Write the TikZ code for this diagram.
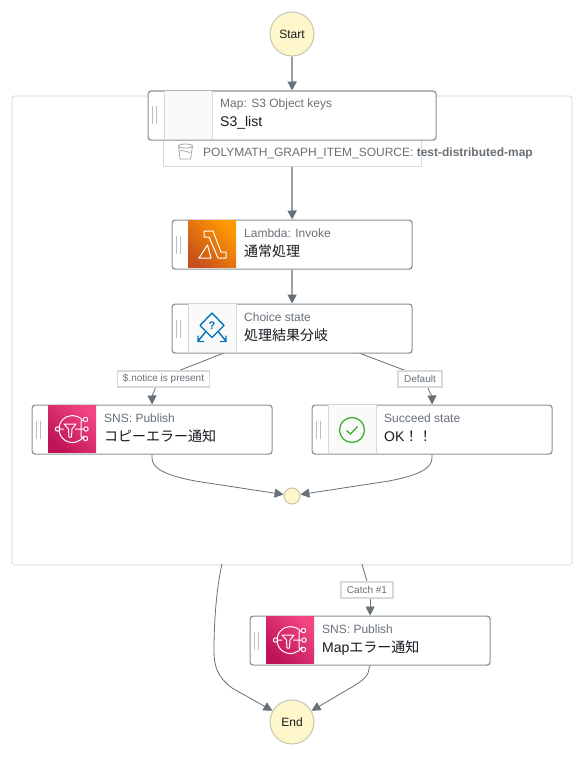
\documentclass[tikz,border=0pt]{standalone}
\usepackage{fontspec}
\setmainfont{Liberation Sans}
\newfontfamily\cjk{Noto Sans CJK JP}
\usetikzlibrary{arrows.meta,calc}
\definecolor{txtgray}{HTML}{687078}
\definecolor{txtdark}{HTML}{16191F}
\definecolor{edgegray}{HTML}{687078}
\definecolor{boxline}{HTML}{879196}
\definecolor{stemgray}{HTML}{98A2A7}
\definecolor{lightline}{HTML}{D5DBDB}
\definecolor{groupline}{HTML}{E1E5E5}
\definecolor{handlegray}{HTML}{B8C0C4}
\definecolor{panelfill}{HTML}{FAFAFA}
\definecolor{termfill}{HTML}{FEF7CB}
\definecolor{termline}{HTML}{C9C6B0}
\definecolor{awsblue}{HTML}{0073BB}
\definecolor{awsgreen}{HTML}{2EAB1E}
\definecolor{snslow}{HTML}{BC1356}
\definecolor{snshigh}{HTML}{F34482}
\definecolor{snsmid}{HTML}{D82A6A}
\definecolor{lambdalow}{HTML}{C8511B}
\definecolor{lambdahigh}{HTML}{FF9900}
\pgfdeclarelayer{under}
\pgfsetlayers{under,main}
\tikzset{
  statebox/.style={draw=boxline,line width=1.2pt,fill=white,rounded corners=3pt,minimum height=49pt,minimum width=240pt,anchor=north west,inner sep=0pt},
  terminal/.style={circle,draw=termline,fill=termfill,line width=1pt,minimum size=44pt,inner sep=0pt,font=\fontsize{12}{14}\selectfont,text=txtdark},
  subtitle/.style={anchor=base west,inner sep=0pt,font=\fontsize{12}{14}\selectfont,text=txtgray},
  titletext/.style={anchor=base west,inner sep=0pt,font=\fontsize{14}{16}\selectfont,text=txtdark},
  edgelabel/.style={draw=lightline,line width=1.2pt,fill=white,inner sep=0pt,minimum height=16pt,font=\fontsize{10}{11}\selectfont,text=txtgray},
  thick edge/.style={draw=stemgray,line width=1.7pt,-{Triangle[width=9pt,length=9pt,color=edgegray]}},
  thin edge/.style={draw=edgegray,line width=.8pt},
  thin arrow/.style={thin edge,-{Triangle[width=9pt,length=9pt,color=edgegray]}},
  handle/.style={draw=handlegray,line width=1pt},
  iconw/.style={draw=white,line width=1pt,line join=round},
}
% #1 name, #2 x, #3 y, #4 panel+icon code, #5 subtitle, #6 title, #7 width
\newcommand\statenode[7]{%
  \node[statebox,minimum width=#7pt] (#1) at (#2-.5,#3-.5) {};
  \draw[handle] ($(#2,#3)+(4.5,15.5)$) -- ++(0,18);
  \draw[handle] ($(#2,#3)+(8,15.5)$) -- ++(0,18);
  \begin{scope}[shift={(#2+16,#3)}]#4\end{scope}
  \node[subtitle] (#1sub) at ($(#2,#3)+(72,17)$) {#5};
  \node[titletext] (#1title) at ($(#2,#3)+(72,36)$) {#6};
}
\newcommand\plainpanel{\path[fill=panelfill] (0,.1) rectangle (48,47.9);
  \draw[lightline,line width=.8pt] (0,.1) -- (0,47.9) (48,.1) -- (48,47.9);}
\newcommand\snsicon{%
  \path[bottom color=snslow,top color=snshigh,shading angle=-45] (0,.1) rectangle (48,47.9);
  \draw[iconw] (34,14.5) arc[start angle=-45,end angle=-330,radius=13.5];
  \draw[iconw] (16,19) -- (28,19) -- (24,24) -- (23.5,32) -- (21,32) -- (20.5,24) -- cycle;
  \draw[iconw] (12,24) -- (16,24) (27,24) -- (35.5,24) (33,16) -- (33,32) (33,16) -- (35,15) (33,32) -- (35,33);
  \draw[iconw,fill=snsmid] (9.5,24) circle[radius=2.2] (37.5,14.5) circle[radius=2.2] (38,24) circle[radius=2.2] (37.5,33.5) circle[radius=2.2];
}
\begin{document}
\begin{tikzpicture}[x=1pt,y=-1pt]
\begin{pgfonlayer}{under}
\useasboundingbox[fill=white] (0,0) rectangle (584,757);
\node[draw=groupline,line width=1.2pt,fill=white,rounded corners=3pt,minimum width=560pt,minimum height=469pt,inner sep=0pt] (group) at (292,330.5) {};
\end{pgfonlayer}
\node[terminal] (start) at (292,34) {Start};
\node[terminal] (endnode) at (292,722) {End};
\node[circle,draw=termline,fill=termfill,line width=1pt,minimum size=16pt,inner sep=0pt] (junction) at (292,496) {};

% item source strip
\node[draw=lightline,line width=1.2pt,fill=white,anchor=north west,minimum width=258pt,minimum height=27pt,inner sep=0pt] (source) at (163,139) {};
\draw[txtgray!60,line width=.8pt] (178.5,146) arc[start angle=180,end angle=-180,x radius=7,y radius=2]
  (178.5,146) -- (180,159) -- (190.5,159) -- (192.5,146) (180,150) -- (190,152.5);
\node[anchor=base west,inner sep=0pt,font=\fontsize{12}{14}\selectfont,text=txtgray] (sourcetext) at (203,157) {POLYMATH\_GRAPH\_ITEM\_SOURCE: \textbf{test-distributed-map}};

\statenode{mapstate}{148}{91}{\plainpanel}{Map: S3 Object keys}{S3\_list}{288}

\statenode{lambda}{172}{220}{%
  \path[bottom color=lambdalow,top color=lambdahigh,shading angle=-45] (0,.1) rectangle (48,47.9);
  \draw[iconw] (16,11) -- (25,11) -- (33,32) -- (38,32) -- (38,38) -- (30,38) -- (21,17) -- (16,17) -- cycle;
  \draw[iconw] (19.5,25) -- (11,38) -- (23,38) -- cycle;
}{Lambda: Invoke}{\cjk 通常処理}{240}

\statenode{choice}{172}{304}{\plainpanel
  \draw[awsblue,line width=1.4pt,line join=round] (24,9) -- (36,21.5) -- (24,33.5) -- (12,21.5) -- cycle;
  \node[inner sep=0pt,text=awsblue,font=\fontsize{11}{11}\selectfont\bfseries] (choicemark) at (24,21.5) {?};
  \draw[awsblue,line width=1.4pt] (17.5,28) -- (10,37) (10,31.5) -- (10,37.5) -- (16,37.5);
  \draw[awsblue,line width=1.4pt] (30.5,28) -- (38,37) (38,31.5) -- (38,37.5) -- (32,37.5);
}{Choice state}{\cjk 処理結果分岐}{240}

\statenode{snscopy}{32}{405}{\snsicon}{SNS: Publish}{\cjk コピーエラー通知}{240}

\statenode{succeed}{312}{405}{\plainpanel
  \draw[awsgreen,line width=1.2pt] (24,25) circle[radius=12.5];
  \draw[awsgreen,line width=1.2pt] (18.5,25.5) -- (22.5,29) -- (29.5,21.5);
}{Succeed state}{OK{\cjk！！}}{240}

\statenode{snsmap}{250}{616}{\snsicon}{SNS: Publish}{Map{\cjk エラー通知}}{240}

% edge labels
\node[edgelabel,minimum width=92pt] (labnotice) at (163.5,379) {\$.notice is present};
\node[edgelabel,minimum width=44pt] (labdefault) at (420,379) {Default};
\node[edgelabel,minimum width=52pt] (labcatch) at (367,590) {Catch \#1};

\coordinate (choiceL) at (224,353);
\coordinate (choiceR) at (359,353);
\coordinate (groupL) at (222,564);
\coordinate (groupR) at (362,564);

\begin{pgfonlayer}{under}
\draw[thick edge] (start.south) -- (mapstate.north);
\draw[thick edge] (source.south -| start) -- (lambda.north);
\draw[thick edge] (lambda.south) -- (choice.north);
\draw[thin edge] (choiceL) -- ($(labnotice.north)+(16,0)$);
\draw[thin arrow] ($(labnotice.south)+(-8,0)$) .. controls (154,392) and (152,396) .. (snscopy.north);
\draw[thin edge] (choiceR) -- ($(labdefault.north)+(-15,0)$);
\draw[thin arrow] ($(labdefault.south)+(8,0)$) .. controls (429,392) and (432,396) .. (succeed.north);
\draw[thin arrow] (snscopy.south) -- (152,458) .. controls (152,470) and (170,476) .. (195,481) -- (junction.170);
\draw[thin arrow] (succeed.south) -- (432,458) .. controls (432,470) and (414,476) .. (389,481) -- (junction.10);
\draw[thin arrow] (groupL) .. controls (216,590) and (214,625) .. (214,650) .. controls (214,668) and (218,677) .. (232,688) -- (endnode.150);
\draw[thin edge] (groupR) -- (labcatch.north);
\draw[thin arrow] (labcatch.south -| snsmap) -- (snsmap.north);
\draw[thin arrow] (snsmap.south) -- (369,668) .. controls (369,676) and (362,681) .. (352,687) -- (endnode.30);
\end{pgfonlayer}
\end{tikzpicture}
\end{document}
